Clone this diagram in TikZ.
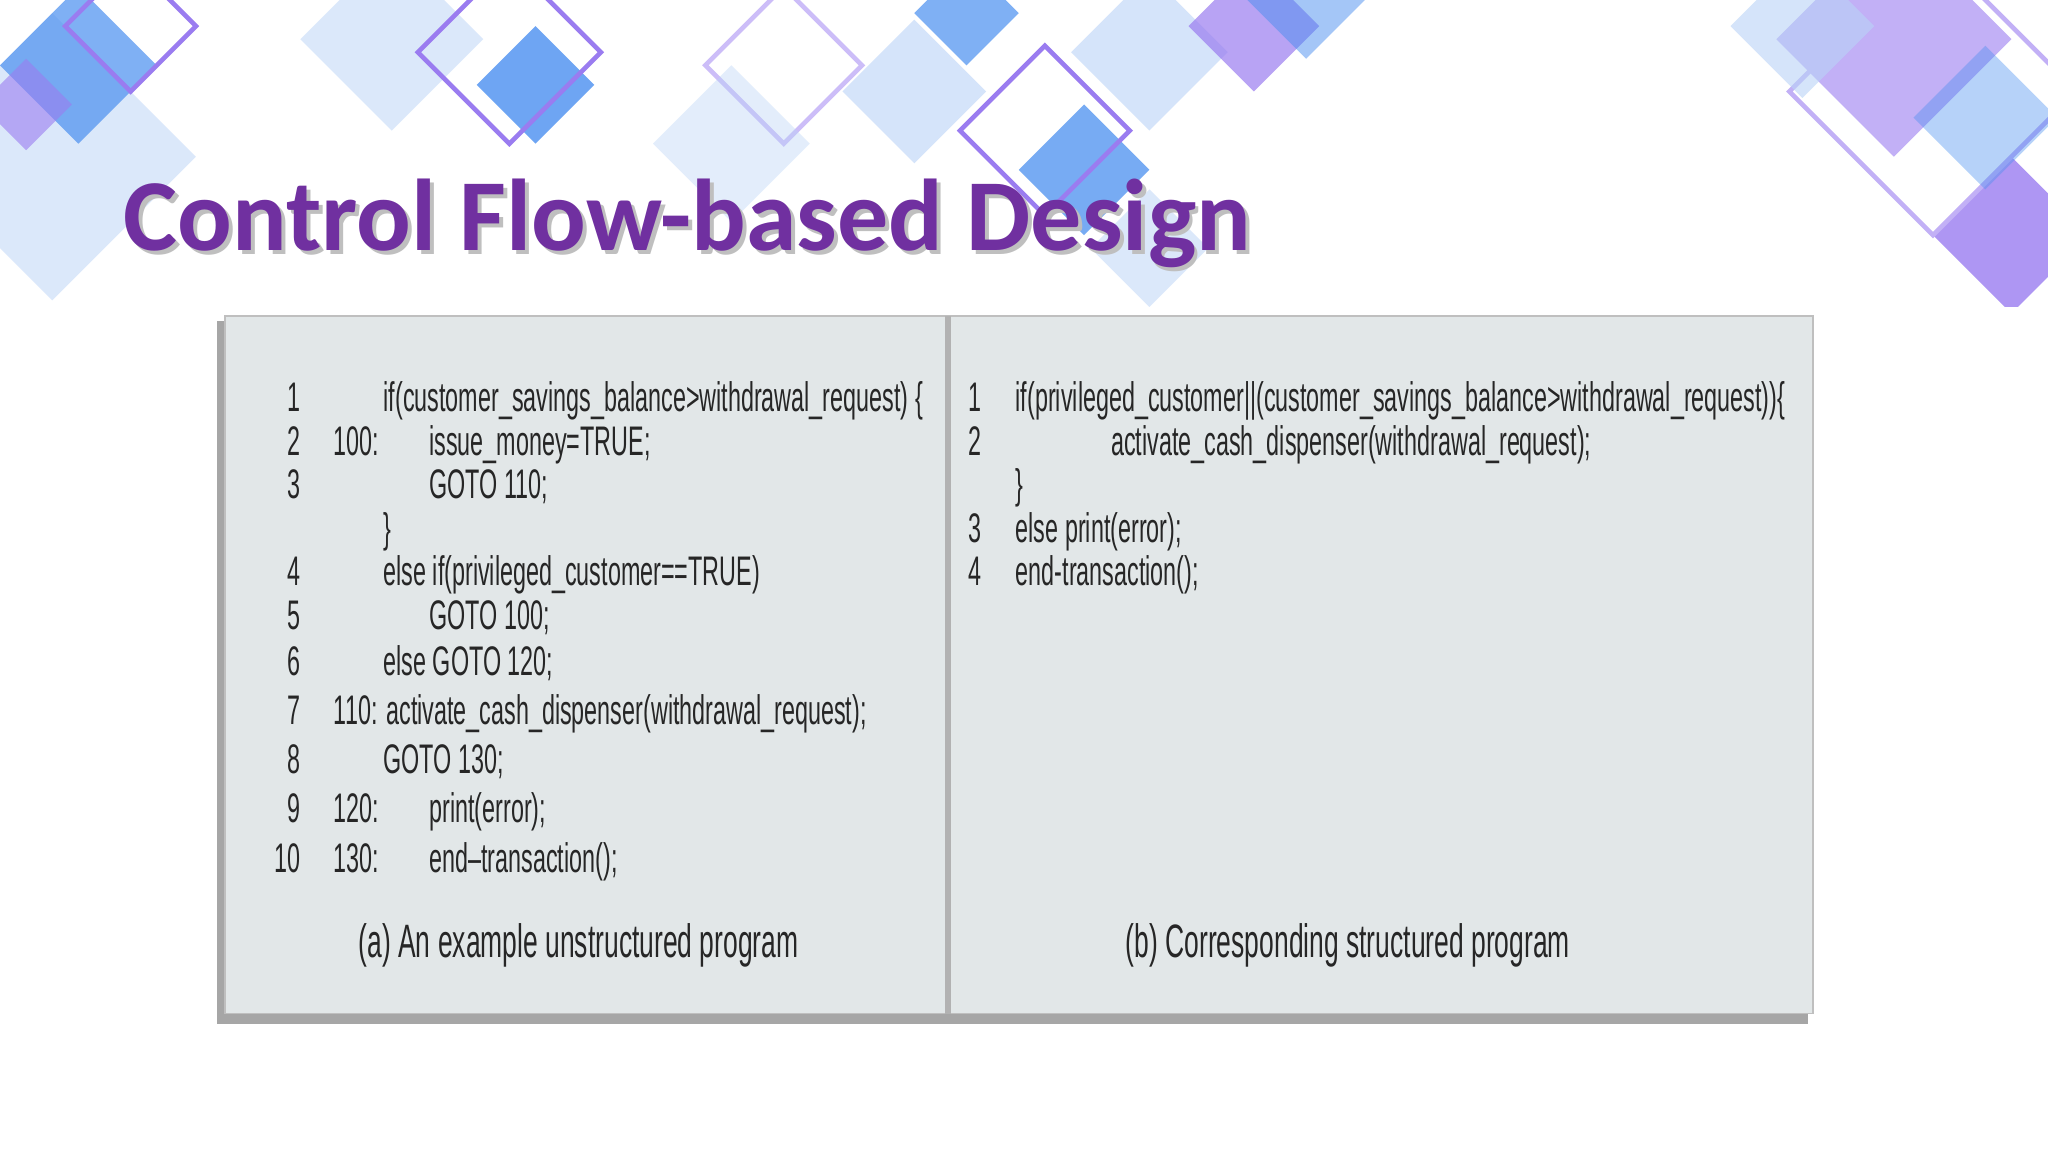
\documentclass[tikz,border=0pt]{standalone}
\usepackage{fontspec}
\setmainfont{Carlito}
\newfontfamily\codefont[FakeStretch=0.565]{Liberation Sans}
\definecolor{ttl}{HTML}{7030A0}
\definecolor{panel}{HTML}{E2E7E8}
\definecolor{bA}{HTML}{4A8FF0}
\definecolor{bB}{HTML}{9A7CF0}
\definecolor{bC}{HTML}{B9D3F7}
\tikzset{
 code/.style={anchor=base west,inner sep=0pt,font=\codefont\fontsize{9pt}{10pt}\selectfont,text=black!85},
 num/.style={anchor=base east,inner sep=0pt,font=\codefont\fontsize{9pt}{10pt}\selectfont,text=black!85},
 capt/.style={anchor=base,inner sep=0pt,font=\codefont\fontsize{10.2pt}{11pt}\selectfont,text=black!85},
}
\newcommand{\dmd}[4]{\path[#1] (#2,#3-#4) -- (#2+#4,#3) -- (#2,#3+#4) -- (#2-#4,#3) -- cycle;}
\begin{document}
\begin{tikzpicture}[x=0.01cm,y=-0.01cm]
\useasboundingbox (0,0) rectangle (1568,882);
\fill[white] (0,0) rectangle (1568,882);
\begin{scope}
\clip (0,0) rectangle (1568,235);
\dmd{fill=bC,opacity=0.5}{40}{120}{110}
\dmd{fill=bA,opacity=0.7}{60}{50}{60}
\dmd{fill=bB,opacity=0.6}{20}{80}{35}
\dmd{draw=bB,line width=1pt}{100}{20}{50}
\dmd{fill=bC,opacity=0.5}{300}{30}{70}
\dmd{fill=bA,opacity=0.8}{410}{65}{45}
\dmd{draw=bB,line width=1pt}{390}{40}{70}
\dmd{draw=bB!50,line width=1pt}{600}{50}{60}
\dmd{fill=bC,opacity=0.4}{560}{110}{60}
\dmd{fill=bA,opacity=0.7}{740}{10}{40}
\dmd{fill=bC,opacity=0.6}{700}{70}{55}
\dmd{fill=bA,opacity=0.75}{830}{130}{50}
\dmd{draw=bB,line width=1pt}{800}{100}{65}
\dmd{fill=bC,opacity=0.6}{880}{40}{60}
\dmd{fill=bB,opacity=0.7}{960}{20}{50}
\dmd{fill=bA,opacity=0.5}{1000}{0}{45}
\dmd{fill=bC,opacity=0.5}{880}{190}{45}
\dmd{fill=bB,opacity=0.6}{1450}{30}{90}
\dmd{fill=bB,opacity=0.8}{1540}{180}{60}
\dmd{draw=bB!60,line width=1pt}{1480}{70}{110}
\dmd{fill=bA,opacity=0.4}{1520}{90}{55}
\dmd{fill=bC,opacity=0.6}{1380}{20}{55}
\end{scope}
% title
\node[anchor=base west,inner sep=0pt,font=\fontsize{22.2pt}{24pt}\selectfont\bfseries,text=black!25] at (97,195) {Control Flow-based Design};
\node[anchor=base west,inner sep=0pt,font=\fontsize{22.2pt}{24pt}\selectfont\bfseries,text=ttl] (title) at (94,192) {Control Flow-based Design};
% panel
\fill[gray!70] (166,246) rectangle (1384,784);
\draw[gray!50,fill=panel] (172,242) rectangle (1388,776);
\draw[gray!60,line width=1.2pt] (726,242) -- (726,776);
% left panel
\foreach \n/\y in {1/315,2/349,3/382,4/448,5/482,6/517,7/555,8/592,9/630,10/668}
  \node[num] at (231,\y) {\n};
\node[code] at (293,315) {if(customer\_savings\_balance>withdrawal\_request) \{};
\node[code] at (255,349) {100:};
\node[code] at (328,349) {issue\_money=TRUE;};
\node[code] at (328,382) {GOTO 110;};
\node[code] at (293,415) {\}};
\node[code] at (293,448) {else if(privileged\_customer==TRUE)};
\node[code] at (328,482) {GOTO 100;};
\node[code] at (293,517) {else GOTO 120;};
\node[code] at (255,555) {110: activate\_cash\_dispenser(withdrawal\_request);};
\node[code] at (293,592) {GOTO 130;};
\node[code] at (255,630) {120:};
\node[code] at (328,630) {print(error);};
\node[code] at (255,668) {130:};
\node[code] at (328,668) {end–transaction();};
\node[capt] at (443,733) {(a) An example unstructured program};
% right panel
\foreach \n/\y in {1/315,2/349,3/415,4/448}
  \node[num] at (752,\y) {\n};
\node[code] at (777,315) {if(privileged\_customer||(customer\_savings\_balance>withdrawal\_request))\{};
\node[code] at (850,349) {activate\_cash\_dispenser(withdrawal\_request);};
\node[code] at (777,382) {\}};
\node[code] at (777,415) {else print(error);};
\node[code] at (777,448) {end-transaction();};
\node[capt] at (1032,733) {(b) Corresponding structured program};
\end{tikzpicture}
\end{document}
